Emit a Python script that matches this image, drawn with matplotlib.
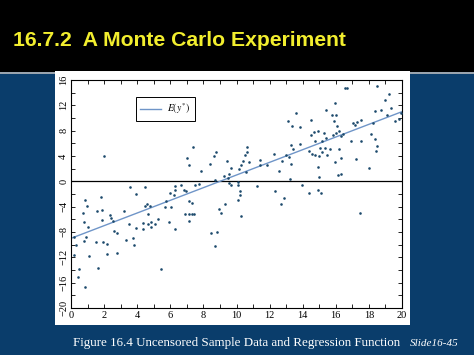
import matplotlib
matplotlib.use("Agg")
import matplotlib.pyplot as plt
from matplotlib.patches import Rectangle
import numpy as np

# ── Data ─────────────────────────────────────────────────────────────────────
x_vals = [
    0.18, 0.30, 0.18, 0.46, 0.42, 0.83, 0.87, 0.99, 0.73, 0.79, 1.03, 0.89, 0.79, 1.09,
    1.51, 1.63, 1.59, 1.83, 1.89, 1.87, 1.93, 2.19, 2.19, 2.00,
    2.34, 2.40, 2.54, 2.58, 2.80, 2.80, 3.20, 3.34, 3.50, 3.77, 3.81, 3.95,
    3.55, 3.90, 4.49, 4.35, 4.35, 4.45, 4.62, 4.78, 4.65, 4.65, 4.82, 4.85, 5.09, 5.26,
    5.46, 5.66, 5.72, 5.90, 6.02, 6.00, 6.22, 6.30, 6.30, 6.30, 6.67,
    6.80, 6.95, 7.11, 7.30, 6.90, 7.10, 7.30, 7.45, 7.11, 7.47, 7.71,
    7.39, 7.03, 7.15, 7.83,
    8.48, 8.84, 8.68, 8.92, 9.29, 9.08,
    8.74, 8.64, 8.40, 9.40, 9.69, 9.24, 9.55, 9.49, 8.72, 9.57, 9.65, 10.09, 10.09,
    10.20, 10.20, 10.10, 10.25,
    10.65, 10.65, 10.49, 10.41, 10.29, 10.77, 10.56, 10.13,
    11.40, 11.40, 11.86, 12.25, 12.55, 12.75,
    11.26, 12.34, 12.90, 12.71,
    13.11, 13.35, 13.62, 13.86,
    13.00, 13.15, 13.40, 13.28, 13.82, 13.28, 13.21, 13.96,
    14.36, 14.92, 15.09, 17.48,
    14.97, 14.92, 14.97,
    14.48, 14.68, 14.92, 14.52, 14.72, 15.02, 14.38, 14.56, 14.76,
    15.29, 15.39, 15.19, 15.19, 15.37, 15.63, 15.49,
    15.43, 15.97, 15.77, 16.03, 15.89, 16.09,
    16.17, 16.33, 15.83, 16.00, 16.45,
    16.17, 16.33, 15.93, 16.13, 16.33,
    16.54, 16.68,
    17.02, 17.16, 17.26, 17.54, 16.94, 17.50, 17.24,
    18.00, 18.45, 18.50, 18.39, 18.15, 18.25,
    18.39, 18.75, 18.50, 19.20, 19.00, 19.36, 19.07, 19.96, 19.60, 19.84,
]
y_vals = [
    -8.74, -10.06, -11.64, -13.85, -15.06, -16.74, -2.95, -3.85, -4.95, -6.48, -7.17, -8.74, -9.43, -11.80,
    -9.53, -13.74, -4.64, -2.53, -4.53, -6.11, -9.53, -9.95, -11.48, 3.95,
    -5.32, -5.84, -6.27, -7.80, -8.11, -11.27, -4.64, -9.27, -6.79, -9.00, -10.06, -7.33,
    -0.95, -2.00, -0.95, -6.64, -7.53, -3.85, -3.65, -3.90, -5.17, -6.79, -7.26, -6.37, -6.79, -6.00,
    -13.85, -4.10, -3.11, -6.37, -4.00, -1.85, -2.16, -7.58, -0.80, -1.30, -0.60,
    -1.40, -1.60, -3.06, -3.38, -5.20, -5.20, -5.20, -5.20, -6.22, -0.53, -0.42,
    5.37, 3.68, 2.50, 1.68,
    -8.21, -7.95, -10.17, -4.37, -3.58, -5.05,
    4.63, 4.00, 2.73, 3.20, 2.10, 0.78, 1.20, 0.52, 0.15, -0.27, -0.53, -0.11, -0.63,
    -1.45, -2.10, -2.95, -5.48,
    5.40, 4.63, 4.10, 3.25, 2.62, 3.00, 1.42, 2.00,
    3.40, 2.50, 2.63, 4.36, 1.68, 3.15,
    -0.80, -1.50, -2.59, -3.58,
    9.57, 8.68, 10.78, 8.53,
    4.20, 3.90, 5.15, 5.78, 5.89, 2.73, 0.41, -0.63,
    -1.90, -1.37, -1.90, -4.96,
    0.63, 2.21, 4.05,
    9.73, 7.78, 7.90, 7.26, 6.32, 5.26, 4.84, 4.31, 4.10,
    7.63, 6.84, 6.32, 4.63, 5.26, 5.10, 4.20,
    11.30, 12.36, 10.42, 10.42, 9.47, 8.68,
    7.90, 7.10, 7.26, 7.60, 7.40,
    5.10, 3.68, 3.00, 1.05, 1.20,
    14.73, 14.73,
    9.20, 8.90, 9.36, 9.73, 6.42, 6.32, 3.52,
    2.10, 4.74, 5.53, 6.68, 7.47, 9.20,
    11.05, 11.26, 15.10, 13.78, 12.80, 11.57, 10.50, 10.78, 9.57, 9.88,
]
# regression function E(y*) = -9 + 1*x
line_x = [0, 20]
line_y = [-9, 11]

x_ticks = list(range(0, 21, 2))
y_ticks = list(range(-20, 17, 4))

# ── Colours ──────────────────────────────────────────────────────────────────
BLUE_BG = "#0a3d6b"
TITLE_YELLOW = "#f2ee2e"
DOT = "#1c4a6c"
LINE = "#6f95c8"

W, H = 474, 355
plt.rcParams["mathtext.fontset"] = "stix"
fig = plt.figure(figsize=(W / 100, H / 100), dpi=100)
fig.patch.set_facecolor(BLUE_BG)

# black title banner + thin separator
fig.patches.append(Rectangle((0, 1 - 72 / H), 1, 72 / H, transform=fig.transFigure,
                             facecolor="black", edgecolor="none", zorder=-3))
fig.patches.append(Rectangle((0, 1 - 74 / H), 1, 2 / H, transform=fig.transFigure,
                             facecolor="#9aa4ae", edgecolor="none", zorder=-3))
# white panel behind the chart
fig.patches.append(Rectangle((55 / W, 1 - 325 / H), 355 / W, 254 / H, transform=fig.transFigure,
                             facecolor="white", edgecolor="none", zorder=-2))

fig.text(13 / W, 1 - 41 / H, "16.7.2  A Monte Carlo Experiment", color=TITLE_YELLOW,
         fontsize=15.2, fontweight="bold", family="Liberation Sans", ha="left", va="center")

ax = fig.add_axes([71 / W, 1 - 308 / H, 331 / W, 228 / H])
ax.set_facecolor("white")
ax.scatter(x_vals, y_vals, s=3.5, color=DOT, linewidths=0, zorder=3)
ax.plot(line_x, line_y, color=LINE, lw=1.0, label="$E(y^{*})$", zorder=2)
ax.axhline(0, color="black", lw=0.9, zorder=1)

ax.set_xlim(0, 20)
ax.set_ylim(-20, 16)
ax.set_xticks(x_ticks)
ax.set_xticks(range(0, 21), minor=True)
ax.set_yticks(y_ticks)
ax.set_yticks(range(-20, 17, 2), minor=True)
ax.tick_params(which="both", direction="in", top=True, right=True, length=3, width=0.6,
               labelsize=7.5, pad=2)
for lab in ax.get_xticklabels() + ax.get_yticklabels():
    lab.set_family("Liberation Serif")
for lab in ax.get_yticklabels():
    lab.set_rotation(90)
    lab.set_va("center")
for s in ax.spines.values():
    s.set_linewidth(0.8)

leg = ax.legend(loc="upper left", bbox_to_anchor=(0.195, 0.925), fancybox=False,
                framealpha=1, edgecolor="black", fontsize=7, handlelength=2.2,
                borderpad=0.45, handletextpad=0.6, borderaxespad=0)
leg.get_frame().set_linewidth(0.7)

fig.text(237 / W, 1 - 343 / H, "Figure 16.4 Uncensored Sample Data and Regression Function",
         color="white", fontsize=9.4, family="Liberation Serif", ha="center", va="center")
fig.text(410 / W, 1 - 344 / H, "Slide16-45", color="white", fontsize=8,
         family="Liberation Serif", style="italic", ha="left", va="center")

fig.savefig("out.png", dpi=100, facecolor=fig.get_facecolor())
